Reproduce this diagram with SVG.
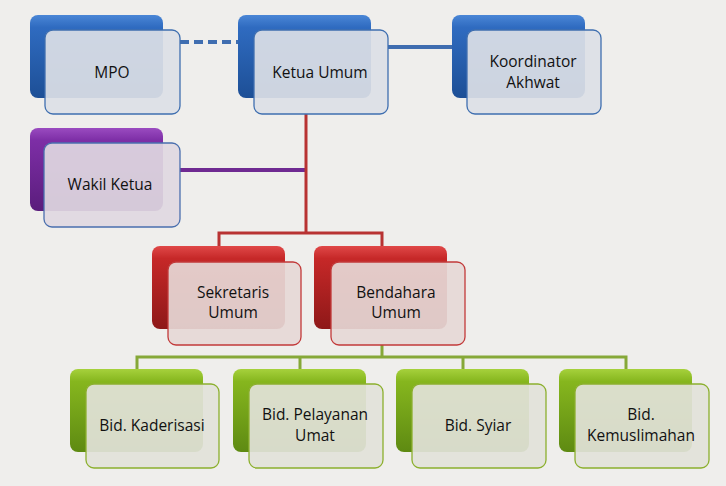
<svg xmlns="http://www.w3.org/2000/svg" width="726" height="486" viewBox="0 0 726 486">
<defs>
<linearGradient id="gb" x1="0" y1="0" x2="0" y2="1"><stop offset="0" stop-color="#4a86d6"/><stop offset="0.15" stop-color="#2f6bc0"/><stop offset="1" stop-color="#1d4f96"/></linearGradient>
<linearGradient id="gp" x1="0" y1="0" x2="0" y2="1"><stop offset="0" stop-color="#9a4bc0"/><stop offset="0.15" stop-color="#7d2ea6"/><stop offset="1" stop-color="#5a1d7c"/></linearGradient>
<linearGradient id="gr" x1="0" y1="0" x2="0" y2="1"><stop offset="0" stop-color="#e04848"/><stop offset="0.15" stop-color="#c62828"/><stop offset="1" stop-color="#8e1818"/></linearGradient>
<linearGradient id="gg" x1="0" y1="0" x2="0" y2="1"><stop offset="0" stop-color="#a6d13c"/><stop offset="0.15" stop-color="#86b61e"/><stop offset="1" stop-color="#5e8a12"/></linearGradient>
</defs>
<style>
.f{stroke-width:1.3}
.fb{fill:#dcdfe6;fill-opacity:0.92;stroke:#3f6fb0}
.fp{fill:#e0d8e1;fill-opacity:0.92;stroke:#4a6fae}
.fr{fill:#e6d8d6;fill-opacity:0.92;stroke:#c23a3a}
.fg{fill:#e2e2d9;fill-opacity:0.92;stroke:#8cb02e}
text{font-family:"Open Sans","Liberation Sans",sans-serif;font-size:15.5px;fill:#111;text-anchor:middle}
</style>
<rect width="726" height="486" fill="#efeeec"/>
<g id="connectors" fill="none">
<line x1="180" y1="42" x2="254" y2="42" stroke="#3f6db0" stroke-width="4" stroke-dasharray="9,5"/>
<line x1="388" y1="47" x2="467" y2="47" stroke="#3f6db0" stroke-width="4"/>
<line x1="180" y1="170" x2="306" y2="170" stroke="#6f2a92" stroke-width="4"/>
<path d="M306 114V233M219 246V233H382V246" stroke="#b83232" stroke-width="3"/>
<path d="M382 345V357M137 369V357H626V369M300 357V369M463 357V369" stroke="#86a838" stroke-width="3"/>
</g>
<g id="mpo"><rect x="30" y="15" width="133" height="83" rx="8" fill="url(#gb)"/><rect class="f fb" x="45" y="30" width="135" height="84" rx="8"/><text x="112" y="78">MPO</text></g>
<g id="ketua"><rect x="238" y="15" width="133" height="83" rx="8" fill="url(#gb)"/><rect class="f fb" x="254" y="30" width="134" height="84" rx="8"/><text x="320" y="78">Ketua Umum</text></g>
<g id="koordinator"><rect x="452" y="15" width="133" height="83" rx="8" fill="url(#gb)"/><rect class="f fb" x="467" y="30" width="134" height="84" rx="8"/><text x="533" y="67">Koordinator</text><text x="533" y="88">Akhwat</text></g>
<g id="wakil"><rect x="30" y="128" width="133" height="83" rx="8" fill="url(#gp)"/><rect class="f fp" x="44" y="143" width="136" height="84" rx="8"/><text x="110" y="190">Wakil Ketua</text></g>
<g id="sekretaris"><rect x="152" y="246" width="133" height="83" rx="8" fill="url(#gr)"/><rect class="f fr" x="168" y="262" width="133" height="83" rx="8"/><text x="233" y="298">Sekretaris</text><text x="233" y="318">Umum</text></g>
<g id="bendahara"><rect x="314" y="246" width="133" height="83" rx="8" fill="url(#gr)"/><rect class="f fr" x="331" y="262" width="134" height="83" rx="8"/><text x="396" y="298">Bendahara</text><text x="396" y="318">Umum</text></g>
<g id="kaderisasi"><rect x="70" y="369" width="133" height="83" rx="8" fill="url(#gg)"/><rect class="f fg" x="86" y="384" width="133" height="84" rx="8"/><text x="152" y="431">Bid. Kaderisasi</text></g>
<g id="pelayanan"><rect x="233" y="369" width="133" height="83" rx="8" fill="url(#gg)"/><rect class="f fg" x="249" y="384" width="134" height="84" rx="8"/><text x="315" y="420">Bid. Pelayanan</text><text x="315" y="441">Umat</text></g>
<g id="syiar"><rect x="396" y="369" width="133" height="83" rx="8" fill="url(#gg)"/><rect class="f fg" x="412" y="384" width="134" height="84" rx="8"/><text x="478" y="431">Bid. Syiar</text></g>
<g id="kemuslimahan"><rect x="559" y="369" width="133" height="83" rx="8" fill="url(#gg)"/><rect class="f fg" x="575" y="384" width="134" height="84" rx="8"/><text x="641" y="420">Bid.</text><text x="641" y="441">Kemuslimahan</text></g>
</svg>
